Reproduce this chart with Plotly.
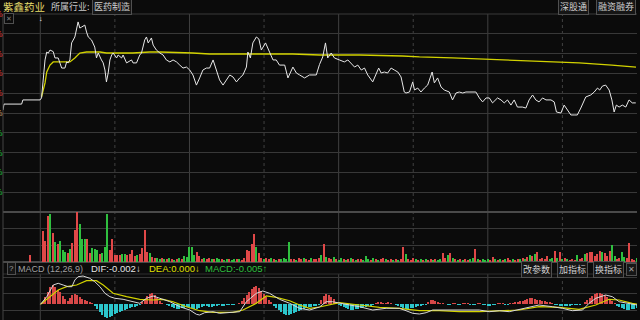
import plotly.graph_objects as go

W, H = 640, 320
L, R = 3, 3

# ---------------- data ----------------
# price line (minute index, 0 = 9:30; negatives = call auction), % change vs previous close
price_t = [-15, -14.6, -7.5, -7.0, -0.1, 0.5, 1.9, 2.6, 3.2, 3.9, 5.2, 5.9, 7.2, 7.9, 8.6, 9.9, 10.6, 11.2, 11.9,
           12.6, 13.9, 15.2, 15.9, 16.6, 17.9, 18.6, 19.3, 20.6, 21.9, 22.6, 23.3, 24.6, 25.3, 26.0, 26.6, 27.3,
           28.0, 28.7, 29.3, 30.7, 31.3, 32.7, 33.3, 34.7, 35.3, 36.7, 37.3, 38.7, 40.0, 40.7, 42.0, 42.7, 43.4,
           44.7, 45.4, 46.7, 48.1, 49.4, 50.7, 52.1, 53.4, 54.8, 56.1, 57.4, 58.8, 60.1, 61.4, 62.8, 64.1, 65.4,
           66.8, 68.1, 69.5, 70.8, 72.1, 73.5, 74.8, 76.2, 77.5, 78.9, 80.2, 81.5, 82.9, 83.5, 84.5, 85.5, 86.9,
           87.9, 88.9, 90.6, 92.2, 93.6, 94.9, 96.2, 98.3, 99.6, 101.6, 103.0, 104.3, 106.3, 108.3, 111.0, 112.3,
           113.6, 114.7, 115.6, 117.0, 118.3, 120.3, 122.3, 123.7, 125.0, 126.4, 127.7, 129.1, 130.4, 131.7, 133.7,
           135.1, 136.1, 137.1, 138.4, 139.7, 141.1, 142.4, 143.8, 145.1, 146.4, 147.1, 148.5, 149.8, 150.5, 151.8,
           153.1, 154.5, 155.8, 157.6, 158.5, 159.8, 161.2, 162.5, 164.5, 165.8, 167.2, 168.5, 169.9, 171.2, 173.2,
           175.2, 176.6, 177.9, 179.3, 180.6, 181.9, 183.9, 185.3, 186.6, 187.9, 189.3, 190.6, 191.9, 193.9, 195.3,
           196.6, 198.0, 199.3, 200.6, 202.0, 203.4, 205.4, 206.7, 207.6, 209.4, 210.7, 212.0, 213.4, 214.7, 216.0,
           217.4, 219.4, 221.4, 222.8, 224.1, 225.0, 226.1, 227.4, 228.8, 229.9, 230.8, 231.7, 232.8, 234.1, 235.5,
           236.8, 238.1, 239.5]
price_v = [0.15, 0.45, 0.45, 0.66, 0.66, 0.76, 2.68, 3.08, 3.02, 3.18, 3.10, 2.78, 2.78, 2.53, 2.27, 2.27, 2.58,
           2.53, 2.68, 3.54, 3.84, 4.60, 4.29, 4.34, 4.44, 4.09, 3.84, 3.69, 3.33, 2.78, 3.03, 2.68, 2.53, 2.17,
           1.57, 2.02, 2.68, 2.93, 3.03, 2.78, 2.93, 2.78, 2.93, 2.53, 2.58, 2.68, 2.53, 2.53, 2.93, 3.03, 3.69,
           3.84, 3.54, 3.79, 3.43, 3.18, 3.03, 2.93, 2.68, 2.58, 2.68, 2.58, 2.42, 2.27, 2.32, 2.17, 1.92, 1.41,
           1.77, 2.17, 2.27, 2.27, 2.68, 2.17, 1.67, 1.41, 1.67, 1.92, 1.82, 1.57, 1.77, 1.92, 2.32, 3.08, 2.78,
           3.54, 3.84, 3.74, 3.18, 3.54, 3.08, 2.68, 2.68, 2.42, 2.42, 1.77, 2.32, 2.02, 1.92, 1.77, 1.92, 1.92,
           2.45, 2.83, 3.54, 2.78, 3.03, 2.78, 2.68, 2.58, 2.68, 2.53, 2.32, 2.42, 2.17, 2.27, 1.92, 1.57, 2.02,
           2.27, 2.02, 2.07, 2.02, 2.27, 2.17, 2.07, 1.82, 1.06, 1.01, 1.06, 1.57, 1.16, 1.26, 1.06, 1.26, 1.41,
           2.07, 1.52, 1.77, 1.31, 1.16, 1.06, 0.66, 1.01, 1.06, 1.01, 1.06, 1.06, 1.06, 0.76, 0.56, 0.76, 0.76,
           0.51, 0.76, 0.66, 0.51, 0.66, 0.40, 0.66, 0.30, 0.30, 0.25, 0.66, 0.91, 0.66, 0.56, 0.76, 0.66, 0.66,
           0.56, 0.05, 0.00, 0.40, 0.15, -0.10, -0.10, -0.10, 0.25, 0.81, 0.91, 1.06, 1.26, 1.16, 1.36, 1.41, 1.16,
           0.66, 0.05, 0.40, 0.30, 0.40, 0.30, 0.66, 0.51, 0.51]

avg_t = [0.5, 1.9, 2.6, 3.9, 5.2, 7.9, 11.9, 13.9, 15.9, 18.6, 24.0, 26.6, 37.2, 44.0, 48.1, 61.3, 68.1, 90.9,
         101.5, 112.3, 128.4, 145.6, 152.5, 165.7, 176.6, 189.8, 203.5, 216.7, 229.9, 239.6]
avg_v = [0.81, 1.52, 2.07, 2.42, 2.58, 2.58, 2.58, 2.78, 3.03, 3.08, 3.08, 3.03, 3.03, 3.08, 3.08, 3.03, 2.98,
         2.98, 2.98, 2.93, 2.93, 2.88, 2.83, 2.78, 2.73, 2.68, 2.58, 2.53, 2.42, 2.32]

price_ticks = ["5.00%", "4.00%", "3.00%", "2.00%", "1.00%", "0.00%", "1.00%", "2.00%", "3.00%", "4.00%"]

# volume per minute (t = 0..240) and direction (r = up, g = down)
auction_vol = 7
vol = [0, 31, 21, 46, 48, 29, 20, 18, 21, 12, 10, 9, 13, 19, 32, 50, 38, 23, 23, 23, 9, 14, 13, 12, 8, 9, 15, 48,
       12, 23, 7, 7, 7, 8, 8, 7, 8, 12, 6, 7, 8, 14, 32, 10, 9, 5, 4, 4, 3, 4, 3, 3, 4, 3, 2, 3, 4, 3, 6, 5, 15, 15,
       7, 10, 6, 3, 4, 3, 4, 3, 3, 4, 3, 3, 2, 3, 3, 2, 3, 3, 3, 2, 4, 12, 11, 18, 28, 15, 9, 4, 3, 4, 3, 4, 3, 2, 3,
       3, 4, 3, 20, 3, 3, 2, 4, 3, 4, 3, 2, 4, 3, 3, 4, 7, 18, 5, 4, 3, 5, 3, 2, 4, 3, 2, 3, 4, 3, 2, 3, 3, 2, 6, 3,
       2, 4, 3, 2, 3, 4, 3, 2, 3, 2, 3, 2, 3, 15, 8, 3, 2, 4, 3, 2, 3, 2, 3, 2, 3, 2, 3, 2, 3, 9, 4, 7, 9, 4, 3, 2, 3,
       2, 3, 2, 3, 4, 13, 3, 2, 3, 2, 3, 2, 5, 3, 2, 3, 2, 3, 4, 2, 3, 2, 3, 3, 4, 3, 5, 7, 6, 8, 10, 3, 4, 3, 6, 3,
       4, 11, 4, 10, 3, 4, 3, 2, 3, 2, 7, 3, 4, 8, 9, 10, 10, 6, 8, 11, 10, 9, 6, 11, 17, 6, 3, 4, 10, 5, 4, 19, 3,
       2, 4]
vol_dir = ("rrrrgrgrgggrgrrrgggrrgggrgggrrrrrggrrrrgrrrrgrrgg" "rgrgrgrgrgggggrrrgrrgrggrggrggrgrrrrrrgrrgrrgrgrg"
           "gggrrgrrgrrgrrrgrgrrgrggrgrgrgrrgggrgrgrrgrrgrgrr" "grrrgrgrgrrgrggrrgrgrgrgrrggrgrgggrrgrgrgrrgrrgrg"
           "rgrgrrrrrggrgrgrgrrrgrrgrrrrrrgrrrggrrggrrrrg")

# MACD histogram per minute (t = 0..240), DIF / DEA lines
macd_hist = ([0, 2, 7, 12, 17, 19, 17, 14, 12] +
             [8, 5, 3, 6, 9, 10, 9, 7, 5, 4, 3, 2, 1] +
             [-2, -5, -8, -11, -13, -14, -13, -12, -10, -9, -8, -7, -6, -5, -4, -3, -3, -2, -1] +
             [2, 5, 8, 10, 11, 9, 6, 3, 1, 0] +
             [-1, -2, -3, -4, -5, -5, -4, -4, -3, -3, -4, -5, -5, -4, -3, -2, -2, -3, -3, -2, -2, -1, -2, -2, -1,
              -1, -1, -1, 0, 1] +
             [3, 6, 9, 12, 15, 17, 18, 16, 13, 10, 7, 4, 2] +
             [-2, -4, -6, -8, -10, -11, -11, -10, -9, -8, -7, -6, -5, -4, -3, -3, -2, -2, -1] +
             [4, 8, 10, 9, 7, 5, 2] +
             [-1, -2, -3, -4, -5, -6, -6, -5, -5, -4, -3, -3, -2, -2, -1] +
             [1, 2, 2, 1, 1, 2, 1, 0] +
             [-1, -2, -3, -4, -5, -5, -4, -4, -3, -2, -2, -1, -1] +
             [2, 4, 4, 3, 2, 1, 1] +
             [0, -1, -1, 1, 1, -1, -1, 1, 1, 1, -1, -1, -1, 1, 1, -1, -1, -2, -2, -1, -1, 1, 1, 1, -1, -1, 1, 1,
              2, 2, 3, 3] +
             [4, 5, 6, 6, 5, 4, 4, 3, 3, 2, 2, 1] +
             [-1, -1, -2, -2, -2, -2, -2, -1, -1, -1, -1, 0] +
             [2, 4, 6, 8, 10, 11, 11, 10, 9, 7, 5, 3, 1] +
             [-2, -3, -4, -5, -6, -6, -5, -5, -4])

dif_t = [0.1, 2.6, 5.2, 7.2, 9.2, 11.2, 12.7, 13.9, 15.2, 17.2, 19.9, 21.9, 24.0, 26.0, 28.0, 30.0, 33.3, 36.7,
         40.0, 42.7, 45.4, 48.1, 52.1, 56.1, 60.1, 62.8, 64.1, 66.1, 69.5, 72.1, 76.2, 80.2, 82.9, 86.9, 89.5,
         92.2, 96.2, 100.3, 104.3, 108.3, 112.3, 115.0, 117.5, 120.3, 124.4, 128.4, 133.7, 139.1, 144.4, 147.1,
         149.8, 152.5, 155.2, 157.8, 161.8, 165.8, 171.2, 176.6, 180.6, 184.6, 188.6, 192.6, 196.6, 200.6, 206.0,
         210.0, 214.0, 218.1, 220.7, 223.4, 227.4, 230.1, 232.8, 236.8, 240.0]
dif_v = [-0.3, 7.3, 19, 20.7, 19, 17.3, 17.3, 24, 27.3, 28, 25.7, 22.3, 17.3, 10.7, 7.3, 5.7, 4.7, 2.3, 0.7, 5.7,
         8, 5.7, 2.3, -2.7, -6, -10.3, -11, -8.7, -7.7, -9.3, -8.7, -7.7, 2.3, 10.7, 13, 10.7, 4.7, 0.7, -4.3, -6,
         -3, 2.3, 2.3, 0.7, -1, -2.7, -6, -4.3, -4.3, -6.7, -9.3, -10, -8.7, -6, -6, -6, -6, -6, -7.7, -6.7, -7.7,
         -5.3, -2.7, -1, -2.7, -4.3, -6.7, -6, 0.7, 5.7, 9, 7.3, 2.3, 0.7, -1]
dea_t = [0.1, 3.9, 7.2, 10.6, 14.6, 18.6, 22.6, 25.3, 29.3, 34.7, 40.0, 45.4, 49.4, 53.4, 58.8, 64.1, 69.5, 77.5,
         81.5, 86.9, 90.9, 94.9, 100.3, 104.3, 108.3, 112.3, 120.3, 128.4, 136.4, 144.4, 152.5, 160.5, 168.5,
         176.6, 184.6, 192.6, 200.6, 208.7, 216.7, 223.4, 228.8, 232.8, 238.1, 240.0]
dea_v = [-0.3, 7.3, 14, 17.3, 19, 23.3, 23.3, 19, 10.7, 7.3, 4.7, 4, 4.7, 2.3, -2.7, -6.7, -8.3, -8.3, -6, 0.7, 8,
         6.7, 3.3, -1, -4.3, -3, 1.3, -1, -3.3, -4.3, -6.7, -6.7, -7.7, -7.7, -6.7, -6, -2.7, -3.3, -5.3, -1, 4.7,
         4, 0.7, 0]

solid_times = [0, 60, 120, 180]
dashed_times = [30, 90, 150, 210]

# ---------------- figure ----------------
def pyf(p):
    return 1 - p / H

def pxf(p):
    return (p - L) / (W - L - R)

BG = "#0b0b0b"
GRID = "#383838"
RED = "#e04848"
GREEN = "#2fbf3f"
CYAN = "#2cc6cc"

fig = go.Figure()

fig.add_trace(go.Scatter(x=avg_t, y=avg_v, mode="lines", line=dict(color="#d2d200", width=1.3),
                         xaxis="x", yaxis="y", hoverinfo="skip"))
fig.add_trace(go.Scatter(x=price_t, y=price_v, mode="lines", line=dict(color="#e8e8e8", width=1),
                         xaxis="x", yaxis="y", hoverinfo="skip"))

tv = list(range(len(vol)))
vr_x = [-4] + [t for t in tv if vol_dir[t] == "r" and vol[t] > 0]
vr_y = [auction_vol] + [vol[t] for t in tv if vol_dir[t] == "r" and vol[t] > 0]
vg_x = [t for t in tv if vol_dir[t] == "g" and vol[t] > 0]
vg_y = [vol[t] for t in tv if vol_dir[t] == "g" and vol[t] > 0]
fig.add_trace(go.Bar(x=vr_x, y=vr_y, width=0.5, marker=dict(color=RED, line=dict(width=0)),
                     xaxis="x2", yaxis="y2", hoverinfo="skip"))
fig.add_trace(go.Bar(x=vg_x, y=vg_y, width=0.5, marker=dict(color=GREEN, line=dict(width=0)),
                     xaxis="x2", yaxis="y2", hoverinfo="skip"))

tm = list(range(len(macd_hist)))
fig.add_trace(go.Bar(x=[t for t in tm if macd_hist[t] > 0], y=[v for v in macd_hist if v > 0], width=0.5,
                     marker=dict(color="#d84848", line=dict(width=0)), xaxis="x3", yaxis="y3", hoverinfo="skip"))
fig.add_trace(go.Bar(x=[t for t in tm if macd_hist[t] < 0], y=[v for v in macd_hist if v < 0], width=0.5,
                     marker=dict(color=CYAN, line=dict(width=0)), xaxis="x3", yaxis="y3", hoverinfo="skip"))
fig.add_trace(go.Scatter(x=dea_t, y=dea_v, mode="lines", line=dict(color="#d2d200", width=1.2),
                         xaxis="x3", yaxis="y3", hoverinfo="skip"))
fig.add_trace(go.Scatter(x=dif_t, y=dif_v, mode="lines", line=dict(color="#d8d8d8", width=1),
                         xaxis="x3", yaxis="y3", hoverinfo="skip"))

xcommon = dict(range=[-15, 240], showgrid=False, zeroline=False, showticklabels=False, fixedrange=True,
               showline=False, domain=[0, 1])
fig.update_layout(
    width=W, height=H, margin=dict(l=L, r=R, t=0, b=0), paper_bgcolor=BG, plot_bgcolor=BG,
    showlegend=False, barmode="overlay", bargap=0,
    xaxis=dict(**xcommon, anchor="y"),
    xaxis2=dict(**xcommon, anchor="y2"),
    xaxis3=dict(**xcommon, anchor="y3"),
    yaxis=dict(domain=[pyf(212), pyf(14)], range=[-5, 5], dtick=1, tick0=0, showgrid=True, gridcolor=GRID,
               gridwidth=1, zeroline=False, showticklabels=False, fixedrange=True),
    yaxis2=dict(domain=[pyf(262), pyf(212)], range=[0, 50], dtick=50 / 3, tick0=0, showgrid=True,
                gridcolor=GRID, zeroline=False, showticklabels=False, fixedrange=True),
    yaxis3=dict(domain=[0, pyf(274)], range=[-16, 30], dtick=16.5, tick0=-6, showgrid=True, gridcolor=GRID,
                zeroline=False, showticklabels=False, fixedrange=True),
)

shapes = []
for t in solid_times + dashed_times:
    dash = "solid" if t in solid_times else "dot"
    for (y0, y1) in [(pyf(262), pyf(14)), (0, pyf(274))]:
        shapes.append(dict(type="line", xref="x", yref="paper", x0=t, x1=t, y0=y0, y1=y1,
                           line=dict(color="#404040", width=1, dash=dash), layer="below"))
# panel borders / separators
for p, c, w in [(14, "#3a3a3a", 1), (212, "#4a4a4a", 2), (262, "#4a4a4a", 2), (274, "#2e2e2e", 1)]:
    shapes.append(dict(type="line", xref="paper", yref="paper", x0=0, x1=1, y0=pyf(p), y1=pyf(p),
                       line=dict(color=c, width=w), layer="below"))
shapes.append(dict(type="line", xref="paper", yref="paper", x0=0, x1=0, y0=0, y1=pyf(14),
                   line=dict(color="#444444", width=1)))
fig.update_layout(shapes=shapes)

CJK = "Noto Sans CJK SC"
LAT = "Liberation Sans, Arial, sans-serif"
ann = []

def text(px, py, s, color, size=10, font=CJK, anchor="left", box=False, bg=None):
    d = dict(xref="paper", yref="paper", x=pxf(px), y=pyf(py), text=s, showarrow=False,
             xanchor=anchor, yanchor="middle", font=dict(family=font, size=size, color=color))
    if box:
        d.update(bordercolor="#505050", borderwidth=1, borderpad=1, bgcolor=bg or "#161616")
    ann.append(d)

# title bar
text(1, 7, "紫鑫药业", "#e4dc6c", size=10.5)
text(49, 7, "所属行业:", "#c8c8c8", size=9)
text(111.5, 7, "医药制造", "#d0d0d0", size=9, anchor="center", box=True)
text(573.5, 7, "深股通", "#d0d0d0", size=9, anchor="center", box=True)
text(616, 7, "融资融券", "#d0d0d0", size=9, anchor="center", box=True)
text(40.5, 18, "↓", "#ffffff", size=7, font=LAT, anchor="center")
text(9, 19, "✕", "#808080", size=7, font=LAT, anchor="center", box=True, bg=BG)

# MACD title strip
text(11, 268.5, "?", "#a0a0a0", size=8, font=LAT, anchor="center", box=True)
text(16, 268.5, "MACD (12,26,9)", "#a0a0a0", size=9, font=LAT)
text(89, 268.5, "DIF:-0.002↓", "#e4e4e4", size=9.5, font=LAT)
text(147, 268.5, "DEA:0.000↓", "#e0e000", size=9.5, font=LAT)
text(203, 268.5, "MACD:-0.005↑", "#30c040", size=9.5, font=LAT)
text(536, 269, "改参数", "#d0d0d0", size=9, anchor="center", box=True)
text(572.5, 269, "加指标", "#d0d0d0", size=9, anchor="center", box=True)
text(608.5, 269, "换指标", "#d0d0d0", size=9, anchor="center", box=True)
text(631.5, 269, "✕", "#a0a0a0", size=8, font=LAT, anchor="center", box=True)

# left axis labels (mostly clipped at the left edge, as in the reference)
for i, lab in enumerate(price_ticks):
    p = 14 + 19.8 * i
    col = "#e04040" if i < 5 else ("#c8a070" if i == 5 else "#20c040")
    ann.append(dict(xref="paper", yref="paper", x=0, y=pyf(p), text=lab, showarrow=False, xanchor="right",
                    yanchor="middle", xshift=2, font=dict(family=LAT, size=9, color=col)))
fig.update_layout(annotations=ann)

fig.write_html("out.html")
